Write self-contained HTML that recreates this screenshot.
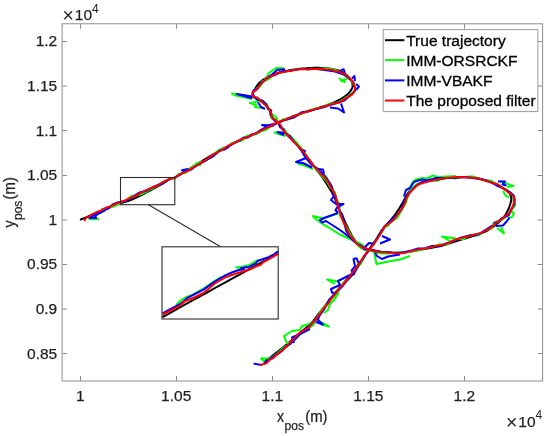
<!DOCTYPE html>
<html lang="en"><head><meta charset="utf-8"><title>Trajectory comparison</title>
<style>html,body{margin:0;padding:0;background:#fff}body{width:550px;height:436px;overflow:hidden}</style>
</head><body>
<svg width="550" height="436" viewBox="0 0 550 436" style="display:block">
<rect width="550" height="436" fill="#fff"/>
<g stroke="#8c8c8c" stroke-width="1" fill="none">
<rect x="62.1" y="23.8" width="480.5" height="357.2"/>
<path d="M80.5,381.0 v-5 M80.5,23.8 v5"/>
<path d="M176.5,381.0 v-5 M176.5,23.8 v5"/>
<path d="M272.5,381.0 v-5 M272.5,23.8 v5"/>
<path d="M368.5,381.0 v-5 M368.5,23.8 v5"/>
<path d="M464.5,381.0 v-5 M464.5,23.8 v5"/>
<path d="M62.1,353.5 h5 M542.6,353.5 h-5"/>
<path d="M62.1,309.0 h5 M542.6,309.0 h-5"/>
<path d="M62.1,264.5 h5 M542.6,264.5 h-5"/>
<path d="M62.1,220.0 h5 M542.6,220.0 h-5"/>
<path d="M62.1,175.5 h5 M542.6,175.5 h-5"/>
<path d="M62.1,130.5 h5 M542.6,130.5 h-5"/>
<path d="M62.1,86.0 h5 M542.6,86.0 h-5"/>
<path d="M62.1,41.5 h5 M542.6,41.5 h-5"/>
</g>
<g fill="none" stroke-width="2.0" stroke-linejoin="round" stroke-linecap="butt">
<path stroke="#000" d="M80.0,219.8 L81.4,219.2 L83.3,218.5 L85.5,217.6 L87.8,216.6 L90.0,215.7 L92.0,214.9 L94.0,214.0 L96.0,213.1 L98.0,212.3 L100.0,211.4 L102.0,210.5 L104.0,209.7 L106.0,208.9 L108.0,208.0 L110.0,207.2 L112.1,206.4 L114.2,205.6 L116.3,204.8 L118.4,204.0 L120.4,203.3 L122.4,202.7 L124.3,202.1 L126.2,201.6 L128.1,201.0 L130.0,200.3 L132.0,199.5 L134.1,198.6 L136.1,197.7 L138.1,196.7 L140.0,195.8 L141.7,195.0 L143.2,194.2 L144.6,193.4 L146.2,192.6 L148.0,191.6 L150.2,190.5 L152.6,189.2 L155.2,187.9 L157.7,186.5 L160.0,185.2 L162.2,183.9 L164.3,182.5 L166.4,181.2 L168.3,180.0 L170.0,179.0 L171.3,178.4 L172.3,178.1 L173.2,177.9 L174.4,177.6 L176.0,176.8 L178.4,175.5 L181.2,173.8 L184.3,172.0 L187.3,170.1 L190.0,168.5 L192.3,167.1 L194.3,165.9 L196.2,164.7 L198.1,163.5 L200.0,162.3 L202.0,161.1 L204.0,159.8 L206.0,158.6 L208.0,157.4 L210.0,156.2 L212.0,155.0 L214.0,153.9 L216.0,152.8 L218.0,151.7 L220.0,150.6 L222.0,149.5 L224.0,148.3 L226.0,147.2 L228.0,146.1 L230.0,145.0 L232.0,144.0 L234.0,143.0 L236.0,142.0 L238.0,141.1 L240.0,140.2 L242.0,139.3 L243.9,138.5 L245.9,137.7 L247.9,136.9 L250.0,136.0 L252.3,135.0 L254.8,133.9 L257.4,132.7 L259.8,131.6 L262.0,130.6 L263.9,129.7 L265.5,128.9 L267.0,128.1 L268.5,127.3 L270.0,126.5 L271.6,125.7 L273.2,124.9 L274.7,124.1 L276.3,123.3 L277.8,122.6 L279.3,121.9 L280.8,121.3 L282.2,120.7 L283.6,120.1 L285.0,119.5 L286.3,119.0 L287.4,118.5 L288.6,118.1 L289.9,117.6 L291.4,117.0 L293.3,116.3 L295.5,115.5 L297.7,114.7 L300.0,113.9 L302.0,113.2 L303.7,112.6 L305.3,112.1 L306.8,111.6 L308.3,111.1 L310.0,110.6 L311.9,110.0 L313.9,109.4 L315.9,108.8 L318.0,108.2 L320.0,107.5 L322.0,106.8 L324.1,106.1 L326.1,105.4 L328.1,104.7 L330.0,104.0 L331.7,103.3 L333.3,102.7 L334.9,102.0 L336.4,101.3 L338.0,100.5 L339.7,99.6 L341.4,98.6 L343.1,97.5 L344.6,96.5 L346.0,95.5 L347.2,94.6 L348.2,93.7 L349.0,92.8 L349.8,91.9 L350.5,91.0 L351.1,90.0 L351.7,89.0 L352.1,88.0 L352.4,87.0 L352.6,86.0 L352.6,85.0 L352.5,84.0 L352.3,83.0 L351.9,82.0 L351.5,81.0 L351.0,80.1 L350.3,79.1 L349.6,78.2 L348.8,77.4 L348.0,76.5 L347.1,75.6 L346.2,74.8 L345.2,74.0 L344.2,73.2 L343.0,72.5 L341.8,71.9 L340.5,71.3 L339.1,70.7 L337.6,70.2 L336.0,69.8 L334.2,69.4 L332.3,69.0 L330.3,68.7 L328.2,68.4 L326.0,68.2 L323.7,68.0 L321.3,67.9 L318.9,67.8 L316.4,67.8 L314.0,67.8 L311.6,67.9 L309.2,68.0 L306.8,68.2 L304.4,68.4 L302.0,68.6 L299.6,68.9 L297.1,69.2 L294.7,69.5 L292.3,69.8 L290.0,70.2 L287.9,70.6 L285.9,70.9 L283.9,71.3 L282.0,71.8 L280.0,72.3 L278.0,72.9 L275.9,73.6 L273.9,74.4 L271.9,75.2 L270.0,76.0 L268.2,76.8 L266.5,77.7 L264.9,78.7 L263.3,79.6 L262.0,80.5 L260.9,81.4 L259.9,82.3 L259.0,83.2 L258.2,84.1 L257.5,85.0 L256.8,86.0 L256.1,87.0 L255.5,88.0 L255.0,89.1 L254.5,90.0 L254.1,90.9 L253.7,91.7 L253.3,92.5 L253.1,93.3 L253.0,94.0 L253.0,94.7 L253.1,95.3 L253.3,95.9 L253.6,96.4 L254.0,97.0 L254.6,97.5 L255.3,98.0 L256.2,98.5 L257.1,99.0 L258.0,99.5 L259.0,100.1 L260.0,100.7 L261.0,101.3 L262.0,101.9 L263.0,102.6 L263.9,103.3 L264.7,104.1 L265.5,104.9 L266.3,105.8 L267.0,106.6 L267.6,107.4 L268.2,108.2 L268.7,109.0 L269.2,109.9 L269.8,111.0 L270.4,112.3 L271.0,113.8 L271.6,115.4 L272.3,116.9 L273.0,118.2 L273.9,119.3 L274.9,120.2 L275.9,121.0 L276.9,121.8 L277.8,122.6 L278.5,123.4 L279.2,124.2 L279.8,124.9 L280.4,125.7 L281.0,126.5 L281.6,127.3 L282.2,128.2 L282.7,129.0 L283.3,129.9 L284.0,130.8 L284.7,131.7 L285.4,132.7 L286.2,133.7 L287.1,134.7 L288.0,135.8 L289.0,136.8 L290.2,137.8 L291.4,138.9 L292.6,140.1 L294.0,141.5 L295.5,143.1 L297.1,145.0 L298.7,147.0 L300.4,149.0 L302.0,151.0 L303.6,153.0 L305.2,155.0 L306.9,157.0 L308.5,159.0 L310.0,161.0 L311.5,162.9 L312.9,164.9 L314.4,166.8 L315.7,168.6 L317.0,170.3 L318.2,171.9 L319.3,173.3 L320.4,174.6 L321.4,176.0 L322.5,177.5 L323.6,179.1 L324.7,180.9 L325.9,182.6 L327.0,184.3 L328.0,186.0 L329.0,187.6 L329.9,189.1 L330.8,190.5 L331.7,192.0 L332.5,193.5 L333.3,195.0 L334.0,196.5 L334.7,198.0 L335.3,199.5 L336.0,201.0 L336.6,202.6 L337.2,204.3 L337.8,205.9 L338.4,207.5 L339.0,209.0 L339.6,210.3 L340.1,211.4 L340.7,212.4 L341.3,213.6 L342.0,215.0 L342.8,216.7 L343.7,218.7 L344.6,220.8 L345.5,222.9 L346.5,225.0 L347.5,227.0 L348.4,229.1 L349.4,231.1 L350.5,233.1 L351.5,235.0 L352.6,236.8 L353.6,238.5 L354.7,240.2 L355.9,241.7 L357.0,243.0 L358.2,244.1 L359.4,245.0 L360.6,245.7 L361.8,246.4 L363.0,247.0 L364.1,247.6 L365.2,248.1 L366.2,248.5 L367.5,249.0 L369.0,249.4 L370.9,249.9 L373.1,250.3 L375.4,250.8 L377.8,251.2 L380.0,251.6 L382.1,252.0 L384.1,252.3 L386.0,252.6 L388.0,252.8 L390.0,253.0 L392.0,253.1 L394.0,253.2 L396.0,253.2 L398.0,253.1 L400.0,253.0 L402.0,252.8 L404.0,252.5 L406.0,252.2 L408.0,251.8 L410.0,251.5 L412.0,251.2 L414.0,250.8 L416.0,250.5 L418.0,250.1 L420.0,249.8 L422.0,249.4 L424.0,249.1 L426.0,248.7 L428.0,248.4 L430.0,248.0 L432.0,247.7 L434.0,247.3 L436.0,247.0 L438.0,246.6 L440.0,246.2 L442.0,245.7 L444.0,245.1 L446.0,244.5 L448.0,243.8 L450.0,243.2 L452.0,242.6 L454.0,241.9 L456.0,241.3 L458.0,240.6 L460.0,240.0 L462.0,239.4 L464.0,238.8 L466.0,238.2 L468.0,237.6 L470.0,237.0 L472.0,236.4 L474.0,235.8 L476.0,235.2 L478.0,234.5 L480.0,233.8 L482.1,232.9 L484.2,232.0 L486.3,231.0 L488.3,230.0 L490.0,229.0 L491.5,228.1 L492.8,227.1 L493.9,226.2 L495.0,225.3 L496.0,224.5 L496.9,223.7 L497.7,223.1 L498.5,222.4 L499.2,221.7 L500.0,221.0 L500.8,220.3 L501.6,219.5 L502.4,218.8 L503.2,217.9 L504.0,217.0 L504.7,215.9 L505.5,214.7 L506.2,213.5 L506.9,212.2 L507.5,211.0 L508.1,209.8 L508.6,208.6 L509.1,207.4 L509.6,206.2 L510.0,205.0 L510.4,203.8 L510.7,202.6 L511.0,201.3 L511.2,200.1 L511.3,199.0 L511.3,197.9 L511.1,196.9 L510.9,195.9 L510.5,195.0 L510.0,194.0 L509.3,193.1 L508.4,192.2 L507.3,191.3 L506.2,190.4 L505.0,189.5 L503.8,188.6 L502.5,187.7 L501.1,186.8 L499.6,185.9 L498.0,185.0 L496.2,184.2 L494.3,183.3 L492.3,182.5 L490.2,181.7 L488.0,181.0 L485.7,180.3 L483.3,179.6 L480.9,179.0 L478.4,178.5 L476.0,178.0 L473.6,177.6 L471.2,177.4 L468.8,177.2 L466.4,177.1 L464.0,177.0 L461.6,177.0 L459.2,177.0 L456.8,177.1 L454.4,177.2 L452.0,177.4 L449.6,177.6 L447.1,177.9 L444.7,178.3 L442.3,178.6 L440.0,179.0 L437.8,179.4 L435.8,179.8 L433.8,180.2 L431.8,180.6 L430.0,181.0 L428.3,181.3 L426.7,181.5 L425.1,181.7 L423.6,182.0 L422.0,182.5 L420.4,183.2 L418.7,184.0 L417.1,184.9 L415.5,185.9 L414.0,187.0 L412.6,188.2 L411.2,189.5 L409.9,190.9 L408.7,192.4 L407.5,194.0 L406.4,195.7 L405.4,197.4 L404.5,199.3 L403.5,201.1 L402.5,203.0 L401.4,204.9 L400.2,206.8 L399.1,208.7 L397.8,210.6 L396.5,212.5 L395.1,214.5 L393.5,216.5 L391.9,218.5 L390.4,220.4 L389.0,222.0 L387.8,223.4 L386.8,224.5 L385.8,225.5 L384.9,226.5 L384.0,227.5 L383.2,228.6 L382.4,229.6 L381.6,230.6 L380.8,231.7 L380.0,233.0 L379.1,234.4 L378.1,236.0 L377.1,237.7 L376.1,239.3 L375.0,241.0 L373.9,242.6 L372.8,244.1 L371.7,245.7 L370.4,247.4 L369.0,249.4 L367.4,251.7 L365.6,254.3 L363.7,257.0 L361.8,259.8 L360.0,262.3 L358.3,264.7 L356.7,267.0 L355.2,269.3 L353.6,271.4 L352.0,273.5 L350.4,275.4 L348.8,277.2 L347.2,279.0 L345.6,280.7 L344.0,282.5 L342.4,284.4 L340.8,286.2 L339.2,288.1 L337.6,290.1 L336.0,292.0 L334.4,294.0 L332.8,296.0 L331.2,298.0 L329.6,300.0 L328.0,302.0 L326.4,304.0 L324.8,306.0 L323.2,308.0 L321.6,310.0 L320.0,312.0 L318.4,314.1 L316.8,316.3 L315.2,318.5 L313.6,320.6 L312.0,322.5 L310.4,324.1 L308.8,325.6 L307.2,326.9 L305.6,328.2 L304.0,329.5 L302.4,330.9 L300.8,332.3 L299.2,333.7 L297.6,335.1 L296.0,336.5 L294.4,337.9 L292.8,339.3 L291.2,340.8 L289.6,342.1 L288.0,343.5 L286.4,344.8 L284.8,346.1 L283.2,347.3 L281.6,348.6 L280.0,349.8 L278.4,351.1 L276.8,352.3 L275.1,353.6 L273.5,354.8 L272.0,356.0 L270.4,357.2 L268.8,358.3 L267.2,359.4 L265.9,360.3 L265.0,361.0"/>
<path stroke="#0f0" d="M101.3,209.1 L104.0,208.6 L106.4,208.1 L108.5,207.9 L110.2,207.4 L111.9,207.0 L113.6,206.6 L115.3,205.7 L117.1,204.9 L118.9,204.0 L120.7,202.9 L122.8,201.7 L125.1,200.6 L127.4,199.1 L129.6,197.6 L131.8,195.8 L134.8,195.4 L137.7,194.8 L140.5,194.4 L142.6,193.5 L144.5,192.7 L146.4,191.9 L148.5,190.6 L151.2,189.1 L154.2,187.5 L157.2,185.8 L160.0,184.1 L162.6,182.4 L165.2,181.0 L167.7,179.7 L169.8,178.6 L171.8,178.3 L173.3,178.3 L174.8,178.4 L176.0,177.1 L177.4,175.6 L178.8,174.0 L180.9,173.6 L183.1,173.2 L185.2,172.9 L186.6,171.7 L188.2,170.4 L190.0,169.0 L192.0,167.2 L194.3,165.3 L196.7,163.3 L199.7,162.5 L202.6,161.7 L205.6,160.9 L207.8,159.0 L210.1,157.1 L212.4,155.1 L215.0,153.2 L217.3,151.4 L219.3,149.9 L220.9,149.0 L222.2,148.3 L223.3,147.7 L224.8,147.7 L226.4,147.7 L227.8,147.8 L228.6,146.4 L229.8,144.9 L231.8,143.1 L234.8,142.3 L237.9,141.6 L240.4,141.1 L242.0,140.3 L243.3,139.7 L244.3,139.2 L245.1,138.0 L246.0,136.8 L247.0,135.6 L248.3,135.5 L249.8,135.4 L251.3,135.2 L253.0,134.9 L254.7,134.6 L256.4,134.3 L257.7,133.3 L259.0,132.4 L260.3,131.4 L262.2,131.0 L264.2,130.4 L266.5,129.7 L268.3,128.2 L270.1,126.6 L271.8,125.1 L273.9,124.4 L276.0,123.7 L278.0,123.0 L279.6,121.7 L281.3,120.5 L282.9,119.3 L284.9,119.3 L286.7,119.3 L288.4,119.4 L289.9,118.8 L291.8,118.1 L294.2,117.2 L296.9,115.9 L299.6,114.6 L302.1,113.4 L304.1,112.4 L305.9,111.5 L307.7,110.7 L309.8,110.1 L312.2,109.4 L314.7,108.7 L317.4,108.3 L320.0,107.8 L322.6,107.4 L324.9,106.2 L327.3,105.0 L329.6,103.8 L332.3,103.4 L335.0,103.0 L337.7,102.6 L339.9,101.4 L342.0,100.1 L344.0,98.7 L345.9,97.6 L347.7,96.5 L349.2,95.5 L350.5,94.6 L351.6,93.6 L352.5,92.6 L353.8,91.8 L354.9,90.8 L355.9,89.5 L355.4,88.0 L354.7,86.8 L353.8,85.7 L353.6,84.6 L353.1,83.4 L352.5,82.2 L351.6,81.1 L350.4,79.9 L349.2,78.8 L347.8,77.8 L346.3,76.8 L344.8,75.9 L343.5,74.6 L341.9,73.4 L340.2,72.3 L338.2,71.3 L336.1,70.3 L333.9,69.4 L331.4,69.0 L328.8,68.6 L326.1,68.2 L323.2,68.5 L320.1,68.7 L317.0,69.1 L314.0,69.1 L311.0,69.2 L308.0,69.4 L305.0,69.1 L301.9,68.9 L298.8,68.6 L295.8,69.4 L292.8,70.1 L290.0,70.9 L287.3,71.3 L284.8,71.7 L282.4,72.2 L279.9,72.7 L277.3,73.5 L274.6,74.3 L272.3,76.0 L270.4,77.7 L268.7,79.4 L266.5,80.0 L264.3,80.6 L262.3,81.1 L261.5,82.8 L261.1,84.4 L260.9,85.9 L259.7,86.6 L258.5,87.3 L257.3,88.0 L256.3,88.8 L255.3,89.3 L254.3,89.6 L253.8,90.5 L253.3,91.4 L253.1,92.4 L252.9,93.4 L253.0,94.3 L253.2,95.1 L253.1,95.9 L253.5,96.9 L254.4,97.7 L255.4,98.3 L256.4,99.0 L257.4,99.9 L258.8,100.5 L260.3,101.2 L261.8,101.9 L263.5,102.5 L265.2,103.2 L267.0,104.0 L267.4,105.8 L267.5,107.4 L267.4,108.8 L268.7,109.2 L270.1,109.7 L271.5,110.4 L271.1,111.7 L270.7,112.9 L270.4,114.2 L270.6,115.3 L270.8,116.5 L271.1,117.8 L272.6,118.5 L274.3,119.1 L276.1,119.5 L277.1,121.0 L278.0,122.4 L278.6,123.7 L279.3,124.7 L279.9,125.8 L280.4,126.9 L281.7,127.6 L282.9,128.3 L284.1,129.0 L284.8,130.2 L285.6,131.4 L286.5,132.7 L287.7,133.8 L288.9,134.9 L290.3,136.0 L291.7,137.4 L293.2,138.9 L294.8,140.7 L296.8,142.8 L298.8,145.2 L301.0,147.7 L302.9,150.3 L304.7,152.9 L306.6,155.6 L308.1,158.4 L309.7,161.2 L311.4,163.9 L313.5,166.2 L315.6,168.4 L317.5,170.4 L319.1,172.4 L320.5,174.1 L321.9,175.8 L323.4,177.5 L325.0,179.3 L326.7,181.3 L328.1,183.4 L329.3,185.5 L330.3,187.5 L331.9,189.1 L333.5,190.8 L335.1,192.5 L335.5,194.7 L335.9,196.9 L336.2,199.1 L337.4,200.9 L338.6,202.8 L339.6,204.8 L339.6,206.9 L339.5,208.9 L339.5,210.5 L339.5,212.0 L339.6,213.5 L339.9,215.4 L341.1,217.5 L342.5,219.9 L344.0,222.4 L345.3,224.9 L346.6,227.3 L348.0,229.8 L349.3,232.3 L350.6,234.6 L352.1,236.8 L353.4,239.0 L354.9,241.0 L356.3,242.7 L357.3,244.5 L358.5,246.0 L359.8,247.4 L361.4,248.3 L363.0,249.1 L364.7,249.8 L366.6,250.2 L368.7,250.5 L371.3,250.8 L374.1,251.7 L377.0,252.5 L379.7,253.2 L382.3,253.4 L384.9,253.6 L387.4,253.7 L390.0,253.3 L392.5,252.9 L395.0,252.5 L397.5,252.6 L400.0,252.6 L402.5,252.5 L405.0,252.3 L407.6,252.1 L410.1,251.9 L412.6,251.5 L415.1,251.0 L417.6,250.5 L420.1,250.0 L422.6,249.4 L425.1,248.7 L427.6,247.9 L430.0,247.2 L432.5,246.6 L434.9,245.9 L437.4,245.2 L439.7,244.3 L442.4,244.5 L445.2,244.4 L448.1,244.2 L450.3,242.5 L452.5,240.8 L454.7,239.1 L457.5,239.1 L460.2,239.1 L462.9,239.3 L465.1,237.8 L467.4,236.3 L469.7,234.8 L472.4,235.0 L475.2,235.3 L478.0,235.5 L480.4,233.9 L482.8,232.1 L485.2,230.1 L488.0,229.2 L490.3,228.5 L492.1,228.0 L492.6,226.4 L492.8,225.1 L492.9,223.8 L493.7,223.6 L494.5,223.5 L495.3,223.2 L495.7,222.5 L496.5,221.6 L497.4,220.7 L498.8,220.4 L500.1,220.1 L501.3,220.0 L502.3,219.4 L503.3,218.8 L504.3,217.9 L505.4,216.8 L506.6,215.6 L507.7,214.3 L509.1,213.1 L510.5,211.6 L511.8,209.9 L513.1,208.2 L514.2,206.5 L515.2,204.9 L514.7,203.0 L514.0,201.4 L513.0,200.1 L513.3,198.9 L513.4,197.6 L513.1,196.1 L512.3,194.8 L511.1,193.4 L509.7,192.0 L508.1,190.8 L506.3,189.6 L504.4,188.4 L502.3,187.4 L500.0,186.5 L497.6,185.7 L495.6,184.0 L493.5,182.3 L491.1,180.7 L488.2,180.5 L485.1,180.3 L481.9,180.2 L479.0,178.8 L476.1,177.5 L473.1,176.4 L470.1,176.5 L467.0,176.8 L464.0,177.1 L461.0,177.4 L458.0,177.9 L455.1,178.4 L452.0,177.8 L448.9,177.4 L445.7,177.0 L442.8,178.3 L440.1,179.6 L437.6,180.9 L434.9,180.6 L432.3,180.3 L429.8,180.0 L427.7,180.7 L425.8,181.3 L423.9,182.0 L421.7,182.4 L419.5,183.1 L417.2,184.1 L415.2,185.6 L413.3,187.2 L411.6,188.8 L410.3,190.9 L409.2,193.0 L408.3,195.2 L407.5,197.4 L406.9,199.7 L406.2,202.1 L405.0,204.5 L403.5,206.9 L401.9,209.4 L400.6,212.1 L399.1,214.8 L397.3,217.6 L394.5,219.7 L391.8,221.5 L389.6,222.6 L389.2,223.9 L388.9,224.7 L388.9,225.3 L388.6,225.3 L387.7,225.8 L386.6,226.3 L385.5,227.0 L384.7,227.6 L384.2,228.2 L383.8,228.8 L383.2,229.8 L382.3,231.2 L380.8,233.1 L379.0,235.6 L377.1,238.1 L375.7,240.8 L374.3,243.0 L372.8,245.1 L371.0,247.1 L369.0,249.4 L366.9,252.4 L364.9,256.0 L363.0,259.7 L361.1,263.3 L358.8,266.2 L356.6,269.0 L354.4,271.7 L352.5,274.4 L350.6,277.0 L348.7,279.3 L346.3,281.0 L343.8,282.9 L341.4,284.9 L340.0,287.9 L338.6,291.0 L337.3,294.0 L334.8,296.1 L332.2,298.2 L329.7,300.3 L327.6,302.7 L325.5,305.1 L323.5,307.5 L321.6,310.1 L319.8,312.9 L318.0,315.8 L316.4,319.0 L314.8,322.2 L313.1,325.1 L310.8,326.9 L308.5,328.3 L306.3,329.4 L304.5,330.7 L303.0,331.9 L301.6,333.1 L300.2,334.2 L298.6,335.6 L296.7,337.4 L294.7,339.4 L292.6,341.5 L290.6,343.6 L288.0,345.0 L285.4,346.6 L282.9,348.0 L281.1,349.9 L279.3,351.7 L277.4,353.3 L275.4,354.7 L273.3,356.0 L271.1,357.5 L269.2,359.3"/>
<path stroke="#0f0" d="M88.6,219.2 L99.1,219.2"/>
<path stroke="#0f0" d="M198.0,165.0 L201.0,165.2"/>
<path stroke="#0f0" d="M339.0,78.0 L345.0,82.0 L341.0,80.8 L347.0,79.0"/>
<path stroke="#0f0" d="M343.0,111.0 L344.8,113.2"/>
<path stroke="#0f0" d="M263.0,82.0 L268.0,75.0 L269.0,73.0 L276.0,68.0 L284.0,68.3"/>
<path stroke="#0f0" d="M254.0,97.5 L232.0,93.5 L236.0,95.5 L252.0,99.0"/>
<path stroke="#0f0" d="M259.0,101.5 L250.0,103.0 L256.0,105.0 L255.0,107.0 L262.0,108.0"/>
<path stroke="#0f0" d="M270.0,112.5 L276.0,117.0 L277.5,120.0"/>
<path stroke="#0f0" d="M284.0,133.5 L274.5,132.5 L280.0,134.5 L286.0,136.0"/>
<path stroke="#0f0" d="M297.0,163.0 L306.0,166.0 L313.0,169.0"/>
<path stroke="#0f0" d="M325.0,175.0 L328.0,180.0"/>
<path stroke="#0f0" d="M338.0,213.4 L324.0,218.4 L313.0,216.0 L316.0,219.2 L321.0,222.8 L340.0,234.5 L350.0,239.0 L360.0,243.5 L364.0,246.0"/>
<path stroke="#0f0" d="M374.0,251.5 L376.5,264.0 L386.0,262.0 L400.0,259.5 L410.0,256.0"/>
<path stroke="#0f0" d="M450.0,241.0 L442.0,236.5 L456.0,238.5"/>
<path stroke="#0f0" d="M497.0,228.0 L504.0,233.5 L501.0,227.0"/>
<path stroke="#0f0" d="M510.0,210.0 L514.0,213.5 L512.0,217.0 L508.0,218.0"/>
<path stroke="#0f0" d="M500.0,181.0 L513.5,186.0 L507.0,187.0"/>
<path stroke="#0f0" d="M503.0,191.0 L506.0,196.0 L509.0,197.0"/>
<path stroke="#0f0" d="M409.0,189.0 L413.0,181.5 L416.0,179.5 L422.0,178.0 L427.0,178.5 L433.0,175.5 L438.0,177.0 L456.0,176.0"/>
<path stroke="#0f0" d="M338.0,281.5 L327.0,279.5 L335.0,284.0"/>
<path stroke="#0f0" d="M335.0,293.0 L338.0,294.0 L334.0,300.0 L330.0,304.0 L328.0,310.0 L324.0,313.0"/>
<path stroke="#0f0" d="M318.0,321.0 L329.0,326.5 L320.0,324.0"/>
<path stroke="#0f0" d="M314.0,321.0 L308.0,324.5 L302.0,326.0 L300.0,330.0 L292.0,331.0 L284.0,336.0 L287.0,343.0 L290.0,343.0"/>
<path stroke="#0f0" d="M275.0,357.0 L267.0,358.5 L261.0,358.5 L265.0,362.0"/>
<path stroke="#00f" d="M94.2,213.3 L95.7,213.1 L97.4,212.6 L99.6,211.9 L102.2,211.1 L104.6,210.0 L106.8,209.1 L108.7,208.3 L110.0,207.0 L111.3,205.7 L112.7,204.4 L114.5,203.7 L116.3,203.0 L118.1,202.2 L120.4,201.9 L122.8,201.6 L125.4,201.4 L127.7,200.0 L130.0,198.6 L132.3,197.0 L134.8,195.5 L137.2,193.9 L139.5,192.5 L141.8,191.9 L143.9,191.5 L146.0,191.1 L148.1,189.8 L150.8,188.3 L153.8,186.6 L157.1,185.4 L160.1,184.3 L163.0,183.2 L165.6,181.6 L167.9,180.2 L170.0,178.9 L171.7,178.3 L173.2,177.9 L174.5,177.6 L176.0,176.9 L177.6,176.0 L179.3,174.9 L181.1,173.8 L182.8,172.6 L184.4,171.6 L186.3,171.1 L188.3,170.6 L190.5,169.9 L192.7,168.4 L195.1,166.7 L197.7,164.9 L200.3,163.5 L202.8,162.1 L205.4,160.6 L207.9,159.2 L210.5,157.8 L213.1,156.3 L215.6,154.2 L217.8,152.2 L219.7,150.4 L221.6,150.0 L223.1,149.7 L224.4,149.6 L225.5,148.9 L226.6,148.2 L227.7,147.5 L228.7,146.6 L230.1,145.5 L232.3,144.1 L235.0,142.7 L237.8,141.4 L240.1,140.4 L241.5,139.2 L242.5,138.3 L243.5,137.4 L244.8,137.4 L246.3,137.4 L247.7,137.6 L248.7,136.7 L249.9,135.7 L251.1,134.6 L252.7,134.3 L254.4,133.9 L256.0,133.5 L257.3,132.5 L258.6,131.5 L259.9,130.5 L261.5,129.7 L263.4,128.7 L265.4,127.6 L267.7,127.0 L269.9,126.3 L272.1,125.7 L274.0,124.6 L275.9,123.6 L277.8,122.6 L279.7,121.9 L281.6,121.2 L283.4,120.6 L285.2,120.0 L286.8,119.5 L288.3,119.0 L289.9,118.6 L291.8,118.0 L294.2,117.3 L296.8,115.6 L299.3,113.8 L301.6,112.2 L303.9,111.9 L306.0,111.7 L308.0,111.6 L310.1,110.9 L312.4,110.2 L314.9,109.4 L317.5,108.8 L320.1,108.1 L322.6,107.5 L325.1,106.7 L327.6,105.9 L330.0,105.1 L332.6,104.3 L335.2,103.5 L337.7,102.7 L340.2,102.0 L342.5,101.1 L344.8,100.2 L346.6,98.6 L348.1,97.2 L349.5,95.9 L350.8,95.0 L352.0,94.1 L353.1,93.1 L354.0,91.9 L354.7,90.7 L355.3,89.4 L355.0,88.0 L354.5,86.8 L353.8,85.7 L353.8,84.5 L353.6,83.2 L353.1,81.8 L352.0,80.8 L350.7,79.7 L349.3,78.7 L348.0,77.5 L346.7,76.4 L345.2,75.3 L343.5,74.4 L341.8,73.8 L339.9,73.3 L337.9,72.6 L335.8,71.9 L333.6,71.3 L331.1,70.9 L328.6,70.6 L325.9,70.3 L323.1,69.8 L320.1,69.4 L317.0,69.0 L314.0,68.9 L311.0,68.9 L308.0,69.0 L305.0,69.0 L301.9,69.0 L298.9,69.0 L295.8,69.7 L292.8,70.3 L290.0,71.0 L287.3,71.1 L284.8,71.2 L282.2,71.4 L279.8,72.4 L277.4,73.7 L274.9,75.1 L272.3,75.9 L269.8,76.7 L267.6,77.7 L265.8,79.1 L264.3,80.6 L262.9,81.9 L261.6,82.9 L260.6,83.9 L259.6,84.8 L259.0,86.0 L258.4,87.2 L257.9,88.4 L256.7,89.1 L255.6,89.6 L254.5,89.8 L253.8,90.5 L253.1,91.2 L252.6,92.2 L252.7,93.3 L253.1,94.3 L253.6,95.0 L253.5,95.7 L253.8,96.4 L254.6,97.1 L255.6,97.9 L256.6,98.8 L257.5,99.8 L259.2,100.0 L260.9,100.3 L262.7,100.7 L263.9,102.0 L265.1,103.3 L266.3,104.7 L267.1,106.1 L267.6,107.4 L267.9,108.5 L269.0,109.1 L270.0,109.7 L271.0,110.5 L270.8,111.8 L270.6,113.0 L270.4,114.2 L270.9,115.2 L271.5,116.2 L272.1,117.2 L272.7,118.4 L273.7,119.6 L274.9,120.9 L276.4,121.9 L277.6,122.8 L278.6,123.7 L279.1,124.9 L279.6,126.0 L280.1,127.2 L281.2,127.9 L282.4,128.6 L283.5,129.4 L284.2,130.7 L284.9,132.0 L285.7,133.3 L287.0,134.3 L288.5,135.3 L290.1,136.2 L291.2,137.8 L292.5,139.6 L293.9,141.6 L295.8,143.6 L297.9,145.9 L300.1,148.4 L301.8,151.2 L303.4,154.0 L305.0,156.8 L307.0,159.3 L309.1,161.8 L311.2,164.1 L313.8,166.0 L316.3,167.8 L318.7,169.4 L320.4,171.2 L322.0,172.8 L323.5,174.5 L324.9,176.3 L326.4,178.3 L327.9,180.3 L329.4,182.4 L330.7,184.5 L331.9,186.6 L332.5,188.9 L333.0,191.1 L333.5,193.2 L334.4,195.2 L335.4,197.1 L336.2,199.0 L336.9,201.0 L337.5,203.1 L338.0,205.1 L338.5,207.1 L339.0,209.0 L339.5,210.5 L340.3,211.7 L341.2,213.0 L342.2,214.6 L342.7,216.9 L343.4,219.5 L344.1,222.3 L344.8,225.1 L345.5,227.9 L346.2,230.7 L347.7,233.2 L349.2,235.5 L350.7,237.7 L352.4,239.7 L354.2,241.6 L355.9,243.1 L357.6,244.2 L359.2,245.0 L360.8,245.5 L362.1,246.9 L363.4,248.1 L364.8,249.3 L366.8,249.5 L368.9,249.6 L371.5,249.8 L374.3,250.5 L377.2,251.2 L379.9,251.9 L382.6,252.0 L385.1,252.0 L387.6,252.0 L390.0,252.3 L392.5,252.6 L395.0,252.8 L397.5,252.7 L400.0,252.6 L402.4,252.3 L404.9,251.9 L407.4,251.4 L409.9,250.9 L412.4,250.2 L414.8,249.4 L417.3,248.6 L419.9,248.6 L422.5,248.6 L425.1,248.5 L427.5,247.5 L429.9,246.6 L432.4,245.8 L434.9,245.9 L437.5,245.9 L440.1,245.8 L442.6,245.0 L445.1,244.0 L447.6,243.0 L450.1,242.2 L452.6,241.3 L455.2,240.5 L457.6,239.3 L459.9,238.2 L462.4,237.2 L464.9,236.6 L467.4,236.1 L469.9,235.5 L472.5,235.2 L475.1,234.9 L477.7,234.5 L480.1,233.3 L482.7,231.9 L485.2,230.2 L487.7,228.7 L489.6,227.4 L491.0,226.3 L492.3,226.1 L493.5,225.9 L494.7,225.8 L494.8,224.6 L494.6,223.6 L494.5,222.5 L495.7,222.4 L497.0,222.3 L498.4,222.2 L499.2,221.1 L500.0,220.0 L500.7,218.9 L501.7,218.5 L502.7,217.9 L503.8,217.3 L505.3,216.7 L507.0,216.1 L508.7,215.2 L509.6,213.5 L510.4,211.6 L511.1,209.5 L512.3,207.8 L513.3,206.1 L514.2,204.6 L514.4,202.9 L514.4,201.4 L514.2,200.0 L514.4,198.6 L514.2,197.2 L513.8,195.6 L512.7,194.4 L511.3,193.2 L509.7,192.1 L507.9,191.0 L506.1,189.9 L504.2,188.8 L502.0,187.8 L499.8,186.8 L497.5,186.0 L495.3,184.7 L493.0,183.4 L490.6,182.2 L487.9,181.2 L485.1,180.3 L482.1,179.3 L479.0,178.8 L475.9,178.4 L472.9,178.1 L470.0,177.6 L467.0,177.2 L464.0,176.9 L461.0,177.2 L458.0,177.5 L455.0,177.9 L452.0,177.9 L449.0,178.0 L445.9,178.1 L442.9,178.5 L440.0,179.0 L437.3,179.4 L434.7,179.8 L432.2,180.2 L429.9,180.6 L427.8,180.9 L425.8,181.3 L423.8,181.7 L421.8,182.4 L419.7,183.5 L417.6,184.7 L415.7,186.3 L414.0,187.9 L412.5,189.7 L410.9,191.4 L409.4,193.1 L408.1,195.1 L406.7,197.0 L405.4,199.1 L404.2,201.3 L403.5,203.8 L402.6,206.4 L401.6,209.2 L399.7,211.6 L397.8,213.8 L395.5,216.1 L393.1,218.5 L390.9,220.6 L389.1,222.1 L388.4,222.9 L388.5,222.9 L388.2,222.9 L387.6,223.5 L386.9,224.4 L385.9,225.3 L385.0,226.2 L384.2,227.2 L383.9,228.0 L383.3,228.6 L382.7,229.5 L381.7,230.8 L380.5,232.9 L378.9,235.5 L377.3,238.2 L375.7,240.8 L374.2,243.0 L372.6,245.0 L371.0,247.1 L369.2,249.6 L367.2,252.6 L364.8,255.9 L362.4,259.3 L360.1,262.6 L358.3,265.8 L356.6,268.9 L354.9,272.0 L352.7,274.6 L350.5,276.9 L348.4,279.0 L346.5,281.2 L344.6,283.5 L342.7,286.0 L340.4,288.2 L338.0,290.5 L335.7,292.7 L333.5,295.1 L331.3,297.4 L329.1,299.8 L327.6,302.7 L326.2,305.6 L324.7,308.5 L322.8,311.1 L320.9,313.7 L319.0,316.5 L316.5,319.1 L314.0,321.6 L311.5,323.6 L309.8,325.6 L307.9,327.4 L306.1,329.0 L304.1,330.2 L302.5,331.3 L301.0,332.4 L299.8,333.8 L298.5,335.6 L296.9,337.6 L294.9,339.5 L292.7,341.6 L290.6,343.6 L288.3,345.3 L286.0,347.1 L283.6,348.8 L281.7,350.7 L279.8,352.4 L277.8,353.9 L275.7,355.2 L273.6,356.4 L271.4,357.9 L269.3,359.4 L267.2,360.8 L265.4,362.0 L263.9,363.3"/>
<path stroke="#00f" d="M88.6,217.4 L90.0,218.0 L96.4,217.9 L94.8,216.0 L100.0,213.0 L104.5,210.6 L96.0,214.6 L88.6,217.4"/>
<path stroke="#00f" d="M188.0,169.0 L182.0,170.3 L186.0,171.3"/>
<path stroke="#00f" d="M268.0,126.8 L264.0,126.6"/>
<path stroke="#00f" d="M340.0,70.8 L343.5,69.2 L345.0,72.8"/>
<path stroke="#00f" d="M352.0,78.5 L354.5,76.0 L355.0,81.0"/>
<path stroke="#00f" d="M356.0,84.0 L359.0,86.5 L356.0,90.0"/>
<path stroke="#00f" d="M330.0,107.5 L338.0,108.5 L344.0,112.3 L341.0,103.5"/>
<path stroke="#00f" d="M264.0,81.5 L266.0,79.0 L272.0,74.5 L277.0,70.0 L285.0,69.3"/>
<path stroke="#00f" d="M255.0,97.0 L237.0,94.0 L252.0,98.3"/>
<path stroke="#00f" d="M258.0,102.5 L261.0,107.0 L265.0,109.0"/>
<path stroke="#00f" d="M276.0,123.4 L268.0,125.2 L262.0,125.0 L267.0,126.6 L274.0,125.2"/>
<path stroke="#00f" d="M285.0,133.0 L277.5,132.0 L284.0,135.0"/>
<path stroke="#00f" d="M300.0,149.0 L305.0,151.0 L303.0,153.0"/>
<path stroke="#00f" d="M306.0,158.0 L296.0,162.0 L303.0,163.0 L312.0,167.5"/>
<path stroke="#00f" d="M318.0,169.0 L323.0,169.5 L324.0,174.0"/>
<path stroke="#00f" d="M332.0,192.0 L334.0,196.0 L331.0,200.0 L336.0,204.0 L343.5,204.0 L337.5,207.0 L335.5,210.0 L338.0,213.0"/>
<path stroke="#00f" d="M338.0,213.0 L324.0,218.0 L320.0,220.0 L322.0,222.5 L326.0,221.0 L340.0,230.0 L352.0,239.0"/>
<path stroke="#00f" d="M363.0,249.0 L369.0,243.0 L373.0,243.5 L372.0,246.0"/>
<path stroke="#00f" d="M382.0,236.0 L390.0,239.5 L380.0,243.5"/>
<path stroke="#00f" d="M375.0,252.5 L377.0,256.0 L382.0,259.0 L388.0,256.5 L400.0,254.5"/>
<path stroke="#00f" d="M496.0,226.0 L503.0,225.5 L507.0,221.0 L509.5,217.5"/>
<path stroke="#00f" d="M498.0,181.5 L505.0,181.5 L502.5,184.5 L506.5,185.5"/>
<path stroke="#00f" d="M404.0,196.5 L406.0,190.0 L410.0,188.0 L414.0,182.0 L418.0,180.5 L423.0,179.5 L427.0,180.5 L436.0,178.0 L445.0,178.0"/>
<path stroke="#00f" d="M358.5,263.0 L356.5,258.2 L353.5,259.0 L355.0,266.0 L351.5,270.5 L354.5,275.0"/>
<path stroke="#00f" d="M350.0,275.0 L338.0,281.0 L340.0,285.0 L331.0,289.0 L332.0,292.5 L336.0,293.5"/>
<path stroke="#00f" d="M320.0,313.0 L319.0,316.0 L318.0,320.0 L323.0,324.5 L316.0,322.0"/>
<path stroke="#00f" d="M310.0,329.0 L300.0,334.0 L292.0,337.5 L294.0,343.0"/>
<path stroke="#00f" d="M262.0,365.0 L253.6,363.6"/>
<path stroke="#f00" d="M84.1,221.0 L84.5,220.6 L84.9,220.0 L85.2,219.2 L85.4,218.5 L85.9,218.1 L86.3,217.7 L86.8,217.4 L87.5,217.2 L88.4,216.7 L89.6,216.2 L90.7,215.3 L91.8,214.3 L93.0,213.8 L94.2,213.3 L95.5,212.7 L97.1,211.9 L99.2,211.1 L101.7,210.2 L104.1,208.8 L106.2,207.6 L108.1,207.0 L109.8,206.5 L111.4,205.9 L113.1,205.3 L114.7,204.3 L116.4,203.4 L118.4,202.8 L120.5,202.2 L122.7,201.3 L125.1,200.5 L127.4,199.3 L129.8,198.0 L132.4,197.1 L135.1,196.1 L137.6,194.6 L139.9,193.3 L142.0,192.3 L143.8,191.4 L145.7,190.4 L147.9,189.3 L150.8,188.2 L154.0,187.0 L157.1,185.4 L160.0,183.9 L162.6,182.4 L165.2,180.9 L167.8,179.9 L170.0,179.0 L171.8,178.5 L173.3,178.2 L174.5,177.6 L175.9,176.8 L177.6,175.9 L179.3,174.9 L181.1,173.9 L182.9,172.9 L184.8,172.2 L186.5,171.5 L188.3,170.6 L190.3,169.5 L192.5,167.9 L194.9,166.3 L197.6,164.8 L200.2,163.4 L202.7,161.9 L205.2,160.3 L207.6,158.6 L209.9,156.9 L212.5,155.2 L215.1,153.4 L217.8,152.2 L220.1,151.1 L221.7,150.1 L222.8,149.4 L223.8,148.6 L224.9,147.9 L226.0,147.1 L227.0,146.5 L228.3,145.9 L230.0,145.1 L232.2,144.0 L235.0,142.6 L237.7,141.2 L239.9,140.0 L241.5,139.2 L242.7,138.6 L243.8,138.2 L245.0,137.8 L246.3,137.5 L247.6,137.3 L248.8,136.7 L250.0,136.1 L251.4,135.3 L252.8,134.5 L254.4,133.9 L255.9,133.2 L257.4,132.6 L258.9,132.0 L260.3,131.2 L261.9,130.3 L263.7,129.4 L265.7,128.3 L267.9,127.4 L270.0,126.5 L271.9,125.3 L273.7,124.1 L275.8,123.3 L277.8,122.6 L279.6,121.7 L281.4,120.8 L283.3,120.2 L285.1,119.7 L286.7,119.1 L288.1,118.5 L289.6,117.9 L291.5,117.2 L293.9,116.3 L296.7,115.3 L299.4,114.1 L302.0,113.1 L304.1,112.5 L306.1,112.0 L307.9,111.2 L309.9,110.4 L312.3,109.9 L314.9,109.3 L317.4,108.5 L319.9,107.6 L322.5,107.0 L325.0,106.4 L327.4,105.5 L329.9,104.5 L332.4,103.9 L335.0,103.1 L337.7,102.7 L340.2,102.1 L342.3,100.6 L344.2,99.1 L346.2,98.1 L348.1,97.2 L349.6,96.1 L351.0,95.2 L352.2,94.2 L353.2,93.2 L353.9,91.9 L354.3,90.6 L354.8,89.3 L355.1,88.0 L354.8,86.8 L354.4,85.6 L354.1,84.4 L353.6,83.2 L352.9,82.0 L352.1,80.7 L351.0,79.5 L349.7,78.3 L348.4,77.1 L347.0,75.9 L345.5,74.8 L343.8,73.9 L342.1,72.9 L340.3,72.0 L338.2,71.6 L335.9,71.3 L333.7,70.5 L331.3,69.7 L328.7,69.5 L326.0,69.4 L323.1,69.2 L320.1,69.1 L317.1,68.9 L314.0,68.8 L311.0,69.1 L308.0,69.4 L305.0,69.3 L302.0,69.1 L298.9,69.5 L295.8,69.8 L292.8,70.3 L290.0,70.8 L287.3,71.3 L284.9,71.9 L282.4,72.2 L279.9,72.6 L277.3,73.5 L274.7,74.6 L272.2,75.7 L269.9,76.8 L267.8,77.9 L265.9,79.1 L264.3,80.6 L262.9,81.9 L261.8,83.1 L260.9,84.2 L259.9,85.1 L259.0,86.0 L258.3,87.1 L257.7,88.3 L257.0,89.3 L256.2,90.2 L255.3,90.7 L254.3,91.1 L253.5,91.6 L252.9,92.3 L252.5,93.2 L252.2,94.2 L252.2,95.3 L252.7,96.2 L253.6,96.8 L254.7,97.0 L255.9,97.2 L257.2,97.6 L258.3,98.6 L259.4,99.6 L260.6,100.8 L261.7,102.0 L263.1,103.0 L264.4,104.1 L265.8,105.2 L267.0,106.2 L267.9,107.2 L268.5,108.1 L269.2,109.0 L269.8,109.9 L270.2,110.9 L270.6,111.9 L271.0,112.8 L271.4,113.8 L271.4,115.0 L271.4,116.2 L272.0,117.3 L272.9,118.3 L274.1,119.2 L275.6,120.1 L276.8,121.3 L277.9,122.5 L278.9,123.4 L279.9,124.2 L280.6,125.3 L281.3,126.3 L281.8,127.5 L282.2,128.7 L283.0,129.8 L283.9,130.9 L284.8,132.0 L285.8,133.2 L286.9,134.4 L288.2,135.6 L289.3,137.1 L290.6,138.5 L292.1,140.0 L293.6,141.8 L295.7,143.7 L297.9,145.9 L300.2,148.3 L302.4,150.7 L304.4,153.2 L306.4,155.7 L308.4,158.3 L310.4,160.7 L312.0,163.4 L313.7,166.0 L315.9,168.1 L318.0,170.0 L319.5,172.0 L320.8,173.8 L322.5,175.2 L324.3,176.8 L325.8,178.7 L327.3,180.8 L328.7,183.0 L329.8,185.1 L330.9,187.2 L331.8,189.2 L333.0,191.1 L334.2,192.9 L335.1,194.9 L336.1,196.8 L336.4,199.0 L336.6,201.1 L337.5,203.1 L338.3,205.1 L338.5,207.1 L338.7,209.1 L339.5,210.5 L340.2,211.8 L340.4,213.2 L340.8,215.1 L341.6,217.3 L342.5,219.9 L343.6,222.5 L344.8,225.1 L346.1,227.6 L347.5,230.1 L348.6,232.7 L349.8,235.1 L351.5,237.2 L353.3,239.1 L354.7,241.1 L356.1,242.9 L357.6,244.2 L359.0,245.3 L360.4,246.3 L361.8,247.4 L363.6,247.7 L365.3,248.0 L366.9,248.9 L368.9,249.8 L371.4,250.3 L374.2,250.9 L377.2,251.5 L379.9,252.1 L382.5,252.2 L385.1,252.3 L387.6,252.5 L390.0,252.7 L392.5,252.8 L395.0,252.9 L397.5,253.2 L400.0,253.4 L402.6,253.1 L405.1,252.7 L407.6,252.1 L410.0,251.4 L412.5,250.8 L415.0,250.3 L417.5,249.7 L420.0,249.1 L422.5,248.8 L425.1,248.5 L427.6,247.9 L430.1,247.4 L432.5,246.6 L434.9,245.9 L437.4,245.6 L439.9,245.2 L442.5,244.7 L445.1,244.1 L447.6,243.1 L450.1,242.2 L452.5,241.0 L454.9,239.8 L457.4,239.0 L459.9,238.2 L462.5,237.6 L465.0,237.1 L467.5,236.6 L470.0,236.0 L472.4,235.1 L474.9,234.2 L477.5,233.9 L480.1,233.3 L482.7,232.0 L485.4,230.5 L488.0,229.3 L490.2,228.3 L491.5,227.1 L492.3,226.1 L493.4,225.7 L494.4,225.4 L494.9,224.7 L495.2,224.1 L495.4,223.4 L495.9,222.7 L497.0,222.3 L498.2,221.8 L499.2,221.0 L500.1,220.2 L501.1,219.7 L502.1,219.2 L502.9,218.2 L503.7,217.1 L504.9,216.2 L506.2,215.2 L507.7,214.3 L509.2,213.2 L510.2,211.4 L511.0,209.5 L512.1,207.7 L513.0,206.0 L513.5,204.3 L513.7,202.8 L514.5,201.4 L514.9,200.0 L514.4,198.6 L513.7,197.4 L513.1,196.1 L512.3,194.8 L510.8,193.8 L509.1,192.9 L507.6,191.4 L506.0,190.0 L504.0,188.9 L502.0,187.8 L500.2,186.2 L498.2,184.6 L495.8,183.7 L493.2,182.9 L490.6,182.2 L487.9,181.5 L485.0,180.6 L482.0,179.8 L479.0,178.8 L476.0,178.0 L473.0,177.8 L470.0,177.8 L467.0,177.5 L464.0,177.3 L461.0,177.2 L458.0,177.1 L455.0,177.2 L452.0,177.4 L448.9,177.7 L445.9,178.0 L442.8,178.4 L440.0,178.9 L437.3,179.5 L434.8,180.1 L432.3,180.5 L430.0,180.9 L427.9,181.6 L426.0,182.2 L424.0,182.6 L422.1,183.2 L419.9,184.0 L417.7,184.9 L415.9,186.6 L414.2,188.3 L412.6,189.8 L411.0,191.4 L409.5,193.2 L408.2,195.1 L407.0,197.2 L406.0,199.3 L405.4,201.7 L404.5,204.2 L403.2,206.7 L401.7,209.3 L399.9,211.7 L398.0,214.0 L396.2,216.6 L394.0,219.3 L391.7,221.4 L389.9,222.9 L389.0,223.6 L388.7,223.7 L388.4,223.8 L388.0,224.1 L387.0,224.6 L385.9,225.2 L384.9,226.1 L384.1,227.1 L383.7,227.9 L383.6,228.7 L383.0,229.7 L382.1,231.0 L380.9,233.2 L379.4,235.8 L377.7,238.5 L375.9,240.9 L374.5,243.2 L373.0,245.3 L371.2,247.2 L369.2,249.6 L366.8,252.4 L364.3,255.6 L362.2,259.2 L360.2,262.6 L358.1,265.6 L356.0,268.6 L353.8,271.2 L351.6,273.7 L349.9,276.3 L348.2,278.8 L346.2,281.0 L344.3,283.3 L342.1,285.5 L339.8,287.8 L337.9,290.4 L335.9,293.0 L333.9,295.4 L331.9,297.9 L330.1,300.6 L328.4,303.3 L326.2,305.7 L324.1,308.0 L322.2,310.6 L320.4,313.3 L318.3,316.0 L316.2,318.9 L314.0,321.6 L311.8,323.8 L310.0,326.0 L308.1,327.8 L306.1,329.0 L304.1,330.2 L302.3,331.1 L300.7,332.0 L299.2,333.2 L297.6,334.6 L296.0,336.6 L294.1,338.8 L292.0,340.8 L289.8,342.8 L287.9,344.9 L285.9,347.0 L284.0,349.1 L282.0,351.0 L279.9,352.5 L277.8,353.8 L276.0,355.5 L274.2,357.3 L272.0,358.6 L269.7,359.9 L267.9,361.8 L266.3,363.4 L264.2,364.0 L262.4,364.3 L260.9,364.9 L259.9,365.4"/>
</g>
<g fill="none" stroke="#2b2b2b" stroke-width="1.1">
<rect x="120.5" y="177.5" width="54.3" height="27.2"/>
<path d="M148.5,204.8 L220.6,246.8"/>
</g>
<rect x="162" y="246.8" width="116.2" height="72.2" fill="#fff" stroke="#2b2b2b" stroke-width="1.1"/>
<g fill="none" stroke-width="2.0" stroke-linejoin="round">
<path stroke="#000" d="M162.5,317.2 L167.6,314.4 L174.7,310.4 L183.0,305.7 L191.7,300.9 L200.0,296.3 L207.9,292.0 L215.9,287.5 L224.0,283.1 L232.1,278.6 L240.0,274.3 L248.3,269.7 L257.2,264.9 L265.6,260.2 L272.9,256.2 L278.0,253.4"/>
<path stroke="#0f0" d="M176.0,305.0 L180.0,301.0 L185.3,297.5 L192.0,295.0 L203.5,288.5 L214.8,280.8 L222.0,276.5"/>
<path stroke="#0f0" d="M240.0,268.5 L236.4,267.3 L241.0,267.0 L249.0,265.3 L255.7,261.2 L258.0,259.8"/>
<path stroke="#00f" d="M162.5,313.4 L171.6,308.5 L178.5,305.0 L184.0,301.0 L187.5,297.8 L195.0,294.0 L203.5,289.6 L214.8,281.6 L226.2,274.8 L233.0,272.0 L239.8,269.8 L244.0,269.5 L241.0,268.0 L249.0,266.9 L255.7,263.5 L258.0,260.7 L267.0,257.8 L274.0,254.4 L278.0,251.3"/>
<path stroke="#f00" d="M162.5,314.6 L171.6,310.0 L178.5,306.6 L185.3,301.0 L194.4,297.5 L203.5,293.0 L214.8,283.5 L226.2,277.0 L235.3,273.7 L249.0,269.8 L258.0,265.7 L261.0,264.6 L263.0,262.3 L269.4,258.9 L278.0,253.9"/>
</g>
<rect x="383.2" y="29.6" width="154.7" height="82" fill="#fff" stroke="#9c9c9c" stroke-width="1"/>
<path d="M385,40.2 H404.4" stroke="#000" stroke-width="2" fill="none"/>
<text transform="translate(406.2,45.7) scale(1.015,1)" font-family="Liberation Sans, Arial, Helvetica, sans-serif" font-size="15.3" fill="#000" stroke="#000" stroke-width="0.3">True trajectory</text>
<path d="M385,60.1 H404.4" stroke="#0f0" stroke-width="2" fill="none"/>
<text transform="translate(406.2,65.6) scale(1.015,1)" font-family="Liberation Sans, Arial, Helvetica, sans-serif" font-size="15.3" fill="#000" stroke="#000" stroke-width="0.3">IMM-ORSRCKF</text>
<path d="M385,80.4 H404.4" stroke="#00f" stroke-width="2" fill="none"/>
<text transform="translate(406.2,85.9) scale(1.015,1)" font-family="Liberation Sans, Arial, Helvetica, sans-serif" font-size="15.3" fill="#000" stroke="#000" stroke-width="0.3">IMM-VBAKF</text>
<path d="M385,100.5 H404.4" stroke="#f00" stroke-width="2" fill="none"/>
<text transform="translate(406.2,106.0) scale(1.015,1)" font-family="Liberation Sans, Arial, Helvetica, sans-serif" font-size="15.3" fill="#000" stroke="#000" stroke-width="0.3">The proposed filter</text>
<text transform="translate(80.2,400.9) scale(1,1)" text-anchor="middle" font-family="Liberation Sans, Arial, Helvetica, sans-serif" font-size="15.5" fill="#1f1f1f" stroke="#1f1f1f" stroke-width="0.25">1</text>
<text transform="translate(176.2,400.9) scale(1,1)" text-anchor="middle" font-family="Liberation Sans, Arial, Helvetica, sans-serif" font-size="15.5" fill="#1f1f1f" stroke="#1f1f1f" stroke-width="0.25">1.05</text>
<text transform="translate(272.3,400.9) scale(1,1)" text-anchor="middle" font-family="Liberation Sans, Arial, Helvetica, sans-serif" font-size="15.5" fill="#1f1f1f" stroke="#1f1f1f" stroke-width="0.25">1.1</text>
<text transform="translate(368.3,400.9) scale(1,1)" text-anchor="middle" font-family="Liberation Sans, Arial, Helvetica, sans-serif" font-size="15.5" fill="#1f1f1f" stroke="#1f1f1f" stroke-width="0.25">1.15</text>
<text transform="translate(464.3,400.9) scale(1,1)" text-anchor="middle" font-family="Liberation Sans, Arial, Helvetica, sans-serif" font-size="15.5" fill="#1f1f1f" stroke="#1f1f1f" stroke-width="0.25">1.2</text>
<text transform="translate(57.2,358.5) scale(1,1)" text-anchor="end" font-family="Liberation Sans, Arial, Helvetica, sans-serif" font-size="15.5" fill="#1f1f1f" stroke="#1f1f1f" stroke-width="0.25">0.85</text>
<text transform="translate(57.2,313.9) scale(1,1)" text-anchor="end" font-family="Liberation Sans, Arial, Helvetica, sans-serif" font-size="15.5" fill="#1f1f1f" stroke="#1f1f1f" stroke-width="0.25">0.9</text>
<text transform="translate(57.2,269.3) scale(1,1)" text-anchor="end" font-family="Liberation Sans, Arial, Helvetica, sans-serif" font-size="15.5" fill="#1f1f1f" stroke="#1f1f1f" stroke-width="0.25">0.95</text>
<text transform="translate(57.2,224.7) scale(1,1)" text-anchor="end" font-family="Liberation Sans, Arial, Helvetica, sans-serif" font-size="15.5" fill="#1f1f1f" stroke="#1f1f1f" stroke-width="0.25">1</text>
<text transform="translate(57.2,180.1) scale(1,1)" text-anchor="end" font-family="Liberation Sans, Arial, Helvetica, sans-serif" font-size="15.5" fill="#1f1f1f" stroke="#1f1f1f" stroke-width="0.25">1.05</text>
<text transform="translate(57.2,135.5) scale(1,1)" text-anchor="end" font-family="Liberation Sans, Arial, Helvetica, sans-serif" font-size="15.5" fill="#1f1f1f" stroke="#1f1f1f" stroke-width="0.25">1.1</text>
<text transform="translate(57.2,90.9) scale(1,1)" text-anchor="end" font-family="Liberation Sans, Arial, Helvetica, sans-serif" font-size="15.5" fill="#1f1f1f" stroke="#1f1f1f" stroke-width="0.25">1.15</text>
<text transform="translate(57.2,46.3) scale(1,1)" text-anchor="end" font-family="Liberation Sans, Arial, Helvetica, sans-serif" font-size="15.5" fill="#1f1f1f" stroke="#1f1f1f" stroke-width="0.25">1.2</text>
<g transform="translate(64.2,20.1)" font-family="Liberation Sans, Arial, Helvetica, sans-serif" fill="#1f1f1f">
<text x="-1.6" y="2.2" font-size="19.5">×</text>
<text transform="translate(10.6,0) scale(1,1)" font-size="15.5" stroke="#1f1f1f" stroke-width="0.25">10</text>
<text x="27.9" y="-7.4" font-size="12">4</text>
</g>
<g transform="translate(507.7,426.7)" font-family="Liberation Sans, Arial, Helvetica, sans-serif" fill="#1f1f1f">
<text x="-1.6" y="2.2" font-size="19.5">×</text>
<text transform="translate(10.6,0) scale(1,1)" font-size="15.5" stroke="#1f1f1f" stroke-width="0.25">10</text>
<text x="27.9" y="-7.4" font-size="12">4</text>
</g>
<g transform="translate(277.0,422.1)" font-family="Liberation Sans, Arial, Helvetica, sans-serif" fill="#1f1f1f" stroke="#1f1f1f" stroke-width="0.25">
<text transform="translate(0,0) scale(0.88,1)" font-size="16">x</text>
<text x="7.6" y="7.5" font-size="12">pos</text>
<text transform="translate(28.2,0) scale(0.93,1)" font-size="16">(m)</text>
</g>
<g transform="translate(14.6,227.6) rotate(-90)" font-family="Liberation Sans, Arial, Helvetica, sans-serif" fill="#1f1f1f" stroke="#1f1f1f" stroke-width="0.25">
<text transform="translate(0,0) scale(0.88,1)" font-size="16">y</text>
<text x="7.6" y="7.5" font-size="12">pos</text>
<text transform="translate(28.2,0) scale(0.93,1)" font-size="16">(m)</text>
</g>
</svg>
</body></html>
